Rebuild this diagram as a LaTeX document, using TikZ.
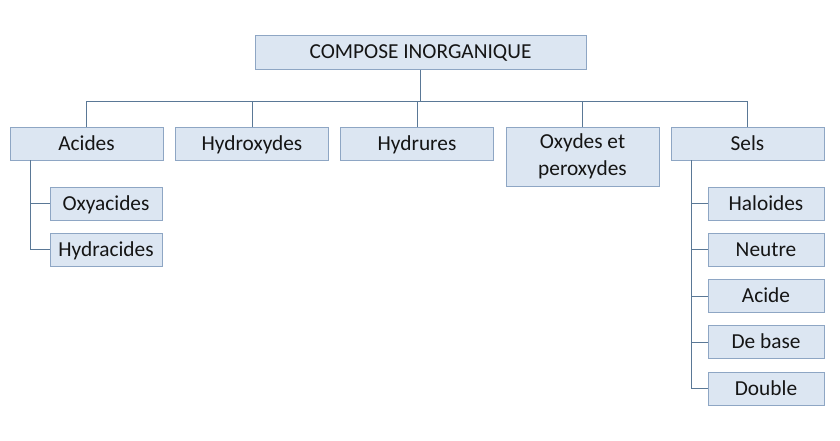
\documentclass[tikz,border=0pt]{standalone}
\usepackage{fontspec}
\setmainfont{Carlito}
\usepackage{xcolor}
\definecolor{boxfill}{HTML}{DCE6F2}
\definecolor{boxline}{HTML}{8EA6C4}
\definecolor{linkcol}{HTML}{5A7896}
\definecolor{txtcol}{HTML}{151515}
\begin{document}
\begin{tikzpicture}[x=0.75pt,y=0.75pt,yscale=-1,xscale=1,
  box/.style={draw=boxline,fill=boxfill,line width=0.75pt,inner sep=0pt,
    text=txtcol,font=\fontsize{16}{20}\selectfont,align=center,
    text height=12.8pt,text depth=3pt,
    minimum width=114.75pt,minimum height=24.75pt},
  subbox/.style={box,minimum width=84pt},
  selbox/.style={box,minimum width=87pt},
  link/.style={draw=linkcol,line width=0.75pt}]
\useasboundingbox (0,0) rectangle (840,440);

% Top node
\node[box,minimum width=248.25pt,minimum height=25.5pt] (compose) at (420.5,52) {COMPOSE INORGANIQUE};

% Level 2
\node[box] (acides) at (86.5,143.5) {Acides};
\node[box] (hydroxydes) at (252,143.5) {Hydroxydes};
\node[box] (hydrures) at (417,143.5) {Hydrures};
\node[box,text height=,text depth=,minimum height=44.25pt] (oxydes) at (582.5,156.5) {Oxydes et\\peroxydes};
\node[box] (sels) at (747.5,143.5) {Sels};

% Acides children
\node[subbox] (oxyacides) at (106,203.5) {Oxyacides};
\node[subbox] (hydracides) at (106,249.75) {Hydracides};

% Sels children
\node[selbox] (haloides) at (766,203.5) {Haloides};
\node[selbox] (neutre) at (766,249.75) {Neutre};
\node[selbox] (acide) at (766,296) {Acide};
\node[selbox] (debase) at (766,342.25) {De base};
\node[selbox] (double) at (766,388.5) {Double};

% Connectors
\coordinate (bus) at (420.5,101);
\draw[link] (compose.south) -- (bus);
\foreach \n in {acides,hydroxydes,hydrures,oxydes,sels}
  \draw[link] (bus) -| (\n.north);

\coordinate (acroot) at (30,160);
\foreach \n in {oxyacides,hydracides}
  \draw[link] (acroot) |- (\n.west);

\coordinate (selroot) at (691,160);
\foreach \n in {haloides,neutre,acide,debase,double}
  \draw[link] (selroot) |- (\n.west);

\end{tikzpicture}
\end{document}
